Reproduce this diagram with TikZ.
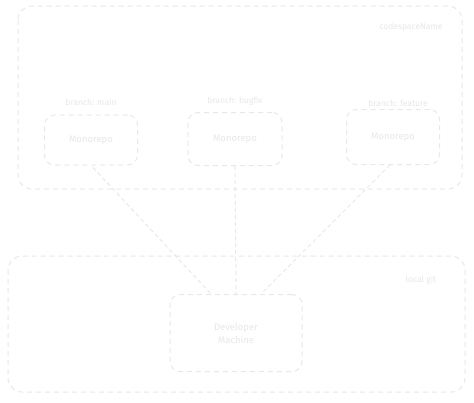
\documentclass[tikz,border=0pt]{standalone}
\usepackage{fontspec}
\setmainfont{Fira Sans}
\definecolor{ink}{RGB}{232,232,232}
\begin{document}
\begin{tikzpicture}[x=1pt,y=-1pt,
  container/.style={draw=ink, line width=1pt, dash pattern=on 5pt off 4pt, rounded corners=14pt},
  boxnode/.style={draw=ink, line width=1pt, dash pattern=on 5pt off 4pt, rounded corners=10pt, text=ink, font=\fontsize{9.5}{13}\selectfont, align=center},
  lbl/.style={text=ink, font=\fontsize{8.5}{10}\selectfont},
  link/.style={draw=ink, line width=1pt, dash pattern=on 4pt off 3pt}]
\useasboundingbox[fill=white] (0,0) rectangle (474,402);
\draw[container] (18,6) rectangle (462,189);
\draw[container] (8,256) rectangle (465,392);
\node[lbl, anchor=east] (cs) at (446,27) {codespaceName};
\node[lbl] (lg) at (421,280) {local git};
\node[boxnode, minimum width=93pt, minimum height=50pt] (a) at (91,140) {Monorepo};
\node[boxnode, minimum width=94pt, minimum height=53pt] (b) at (235,139) {Monorepo};
\node[boxnode, minimum width=93pt, minimum height=55pt] (c) at (393,137) {Monorepo};
\node[lbl] (la) at (91,102) {branch: main};
\node[lbl] (lb) at (235,101) {branch: bugfix};
\node[lbl] (lc) at (398,103) {branch: feature};
\node[boxnode, minimum width=132pt, minimum height=77pt] (d) at (236,333) {Developer\\Machine};
\coordinate (a1) at ([xshift=2pt,yshift=-2pt]a.south);
\draw[link] (a1) -- ([xshift=-25pt]d.north);
\draw[link] (b.south) -- (d.north);
\draw[link] ([xshift=-3pt]c.south) -- ([xshift=25pt]d.north);
\end{tikzpicture}
\end{document}
